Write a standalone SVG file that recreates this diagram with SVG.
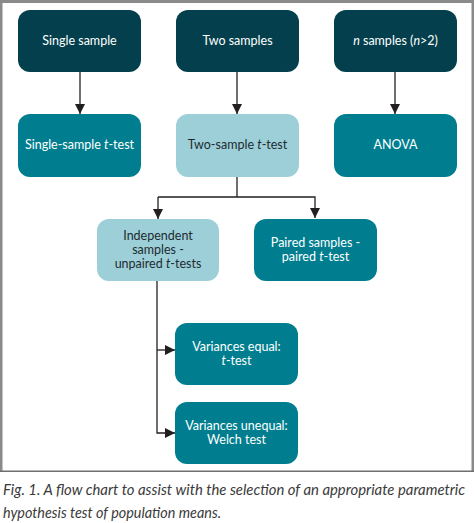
<svg xmlns="http://www.w3.org/2000/svg" width="474" height="523" viewBox="0 0 474 523">
<style>
.dark{fill:#033f4c}
.mid{fill:#007e8f}
.light{fill:#9dcfd9}
.t{font-family:Lato,"Open Sans","Noto Sans",sans-serif;font-size:12.5px;text-anchor:middle}
.w{fill:#ffffff}
.k{fill:#1d2b30}
.i{font-style:italic}
.ln{stroke:#231f20;stroke-width:1.3;fill:none}
.cap{font-family:Lato,"Open Sans","Noto Sans",sans-serif;font-size:15px;font-style:italic;fill:#3a3a3a}
</style>
<defs>
<marker id="ah" viewBox="0 0 10 10" refX="10" refY="5" markerWidth="10" markerHeight="10" markerUnits="userSpaceOnUse" orient="auto">
<path d="M0,0 L10,5 L0,10 Z" fill="#231f20"/>
</marker>
</defs>
<rect x="0" y="0" width="474" height="523" fill="#ffffff"/>
<g id="frame">
<rect x="0" y="0" width="474" height="3" fill="#8a8a8a"/>
<rect x="0" y="0" width="2.5" height="472" fill="#8a8a8a"/>
<rect x="471.5" y="0" width="2.5" height="472" fill="#8a8a8a"/>
<rect x="0" y="470.5" width="474" height="1.5" fill="#6f6f6f"/>
</g>
<g id="connectors">
<line class="ln" x1="80" y1="72" x2="80" y2="114" marker-end="url(#ah)"/>
<line class="ln" x1="237" y1="72" x2="237" y2="114" marker-end="url(#ah)"/>
<line class="ln" x1="395" y1="72" x2="395" y2="114" marker-end="url(#ah)"/>
<line class="ln" x1="237" y1="177" x2="237" y2="197"/>
<polyline class="ln" points="158,197 315,197 315,218" marker-end="url(#ah)"/>
<line class="ln" x1="158" y1="197" x2="158" y2="219" marker-end="url(#ah)"/>
<polyline class="ln" points="157,281 157,433 175,433" marker-end="url(#ah)"/>
<line class="ln" x1="157" y1="350" x2="175" y2="350" marker-end="url(#ah)"/>
</g>
<g id="n1"><rect class="dark" x="18" y="10" width="123" height="62" rx="12"/><text class="t w" x="79.5" y="45">Single sample</text></g>
<g id="n2"><rect class="dark" x="176" y="10" width="123" height="62" rx="12"/><text class="t w" x="237.5" y="45">Two samples</text></g>
<g id="n3"><rect class="dark" x="334" y="10" width="123" height="62" rx="12"/><text class="t w" x="395.5" y="45"><tspan class="i">n</tspan> samples (<tspan class="i">n</tspan>&gt;2)</text></g>
<g id="n4"><rect class="mid" x="18" y="114" width="123" height="63" rx="12"/><text class="t w" x="79.5" y="149">Single-sample <tspan class="i">t</tspan>-test</text></g>
<g id="n5"><rect class="light" x="176" y="114" width="123" height="63" rx="12"/><text class="t k" x="237.5" y="149">Two-sample <tspan class="i">t</tspan>-test</text></g>
<g id="n6"><rect class="mid" x="334" y="114" width="123" height="63" rx="12"/><text class="t w" x="395.5" y="149">ANOVA</text></g>
<g id="n7"><rect class="light" x="97" y="219" width="122" height="62" rx="12"/><text class="t k" x="158" y="240">Independent</text><text class="t k" x="158" y="254">samples -</text><text class="t k" x="158" y="268">unpaired <tspan class="i">t</tspan>-tests</text></g>
<g id="n8"><rect class="mid" x="254" y="219" width="123" height="62" rx="12"/><text class="t w" x="315.5" y="247">Paired samples -</text><text class="t w" x="315.5" y="261">paired <tspan class="i">t</tspan>-test</text></g>
<g id="n9"><rect class="mid" x="175" y="323" width="123" height="62" rx="12"/><text class="t w" x="236.5" y="351">Variances equal:</text><text class="t w" x="236.5" y="365"><tspan class="i">t</tspan>-test</text></g>
<g id="n10"><rect class="mid" x="175" y="402" width="123" height="62" rx="12"/><text class="t w" x="236.5" y="430">Variances unequal:</text><text class="t w" x="236.5" y="444">Welch test</text></g>
<text class="cap" x="3" y="495" textLength="462" lengthAdjust="spacingAndGlyphs">Fig. 1. A flow chart to assist with the selection of an appropriate parametric</text>
<text class="cap" x="3" y="518" textLength="218" lengthAdjust="spacingAndGlyphs">hypothesis test of population means.</text>
</svg>
